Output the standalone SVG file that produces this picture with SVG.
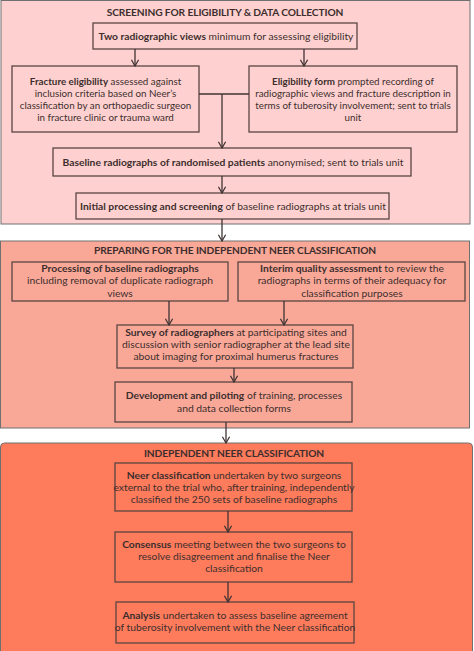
<svg xmlns="http://www.w3.org/2000/svg" width="474" height="651" viewBox="0 0 474 651">
<defs>
<marker id="arr" viewBox="0 0 10 10" refX="9" refY="5" markerWidth="9" markerHeight="9" markerUnits="userSpaceOnUse" orient="auto">
<path d="M2,1 L9,5 L2,9" fill="none" stroke="#3f3433" stroke-width="1.4"/>
</marker>
<style>
.panel{stroke:#707070;stroke-width:1}
.box{fill:none;stroke:#5a4643;stroke-width:1.3}
text{font-family:Lato,"Liberation Sans",sans-serif;font-size:10.3px;fill:#3d2e2d;text-anchor:middle}
.sm{font-size:9.8px}
.title{font-size:10.2px;font-weight:bold;letter-spacing:-0.1px}
.b{font-weight:bold}
.conn line{stroke:#3f3433;stroke-width:1.3;fill:none}
</style>
</defs>
<rect width="474" height="651" fill="#ffffff"/>
<g id="panel1">
<rect class="panel" x="1" y="0.5" width="469" height="223.5" fill="#fed1d0"/>
<text class="title" x="225" y="16">SCREENING FOR ELIGIBILITY &amp; DATA COLLECTION</text>
</g>
<g id="panel2">
<rect class="panel" x="0.5" y="241" width="469" height="187" fill="#f9a898"/>
<text class="title" x="235" y="253.5">PREPARING FOR THE INDEPENDENT NEER CLASSIFICATION</text>
</g>
<g id="panel3">
<rect class="panel" x="0.5" y="443" width="472" height="212" rx="4" fill="#fe7b5b"/>
<text class="title" x="234" y="457">INDEPENDENT NEER CLASSIFICATION</text>
</g>
<g id="views">
<rect class="box" x="93" y="23" width="264" height="26"/>
<text x="226" y="39.5"><tspan class="b">Two radiographic views</tspan> minimum for assessing eligibility</text>
</g>
<g id="fracture">
<rect class="box" x="12" y="66" width="187" height="66"/>
<text class="sm" x="105.5" y="84.5"><tspan class="b">Fracture eligibility</tspan> assessed against</text>
<text class="sm" x="105.5" y="96.5">inclusion criteria based on Neer’s</text>
<text class="sm" x="105.5" y="108.5">classification by an orthopaedic surgeon</text>
<text class="sm" x="105.5" y="120.5">in fracture clinic or trauma ward</text>
</g>
<g id="form">
<rect class="box" x="249" y="66" width="208" height="66"/>
<text class="sm" x="353" y="84.5"><tspan class="b">Eligibility form</tspan> prompted recording of</text>
<text class="sm" x="353" y="96.5">radiographic views and fracture description in</text>
<text class="sm" x="353" y="108.5">terms of tuberosity involvement; sent to trials</text>
<text class="sm" x="353" y="120.5">unit</text>
</g>
<g id="baseline">
<rect class="box" x="53" y="148" width="358" height="28"/>
<text x="233" y="165.5"><tspan class="b">Baseline radiographs of randomised patients</tspan> anonymised; sent to trials unit</text>
</g>
<g id="initial">
<rect class="box" x="76" y="193" width="313" height="26"/>
<text x="233" y="209.5"><tspan class="b">Initial processing and screening</tspan> of baseline radiographs at trials unit</text>
</g>
<g id="processing">
<rect class="box" x="12" y="262" width="216" height="39"/>
<text x="120" y="271.5" class="b">Processing of baseline radiographs</text>
<text x="120" y="284">including removal of duplicate radiograph</text>
<text x="120" y="296.5">views</text>
</g>
<g id="interim">
<rect class="box" x="238" y="262" width="227" height="39"/>
<text x="352" y="271.5"><tspan class="b">Interim quality assessment</tspan> to review the</text>
<text x="352" y="284">radiographs in terms of their adequacy for</text>
<text x="352" y="296.5">classification purposes</text>
</g>
<g id="survey">
<rect class="box" x="117" y="325" width="236" height="43"/>
<text x="236" y="335.5"><tspan class="b">Survey of radiographers</tspan> at participating sites and</text>
<text x="236" y="347.5">discussion with senior radiographer at the lead site</text>
<text x="236" y="359.5">about imaging for proximal humerus fractures</text>
</g>
<g id="development">
<rect class="box" x="115" y="382" width="237" height="40"/>
<text x="234" y="399"><tspan class="b">Development and piloting</tspan> of training, processes</text>
<text x="234" y="411.5">and data collection forms</text>
</g>
<g id="neer">
<rect class="box" x="115" y="463" width="237" height="48"/>
<text x="234" y="478.5"><tspan class="b">Neer classification</tspan> undertaken by two surgeons</text>
<text x="234" y="490.5">external to the trial who, after training, independently</text>
<text x="234" y="502.5">classified the 250 sets of baseline radiographs</text>
</g>
<g id="consensus">
<rect class="box" x="115" y="532" width="237" height="50"/>
<text x="234" y="547.5"><tspan class="b">Consensus</tspan> meeting between the two surgeons to</text>
<text x="234" y="559.5">resolve disagreement and finalise the Neer</text>
<text x="234" y="571.5">classification</text>
</g>
<g id="analysis">
<rect class="box" x="116" y="602" width="238" height="41"/>
<text x="235" y="618.5"><tspan class="b">Analysis</tspan> undertaken to assess baseline agreement</text>
<text x="235" y="631">of tuberosity involvement with the Neer classification</text>
</g>
<g class="conn" id="connectors">
<line x1="135" y1="49" x2="135" y2="66" marker-end="url(#arr)"/>
<line x1="304" y1="49" x2="304" y2="66" marker-end="url(#arr)"/>
<line x1="199" y1="94" x2="249" y2="94"/>
<line x1="222" y1="94" x2="222" y2="148" marker-end="url(#arr)"/>
<line x1="222" y1="176" x2="222" y2="193" marker-end="url(#arr)"/>
<line x1="222" y1="219" x2="222" y2="241" marker-end="url(#arr)"/>
<line x1="169" y1="301" x2="169" y2="325" marker-end="url(#arr)"/>
<line x1="284" y1="301" x2="284" y2="325" marker-end="url(#arr)"/>
<line x1="234" y1="368" x2="234" y2="382" marker-end="url(#arr)"/>
<line x1="226" y1="422" x2="226" y2="443" marker-end="url(#arr)"/>
<line x1="228" y1="511" x2="228" y2="532" marker-end="url(#arr)"/>
<line x1="228" y1="582" x2="228" y2="602" marker-end="url(#arr)"/>
</g>
</svg>
